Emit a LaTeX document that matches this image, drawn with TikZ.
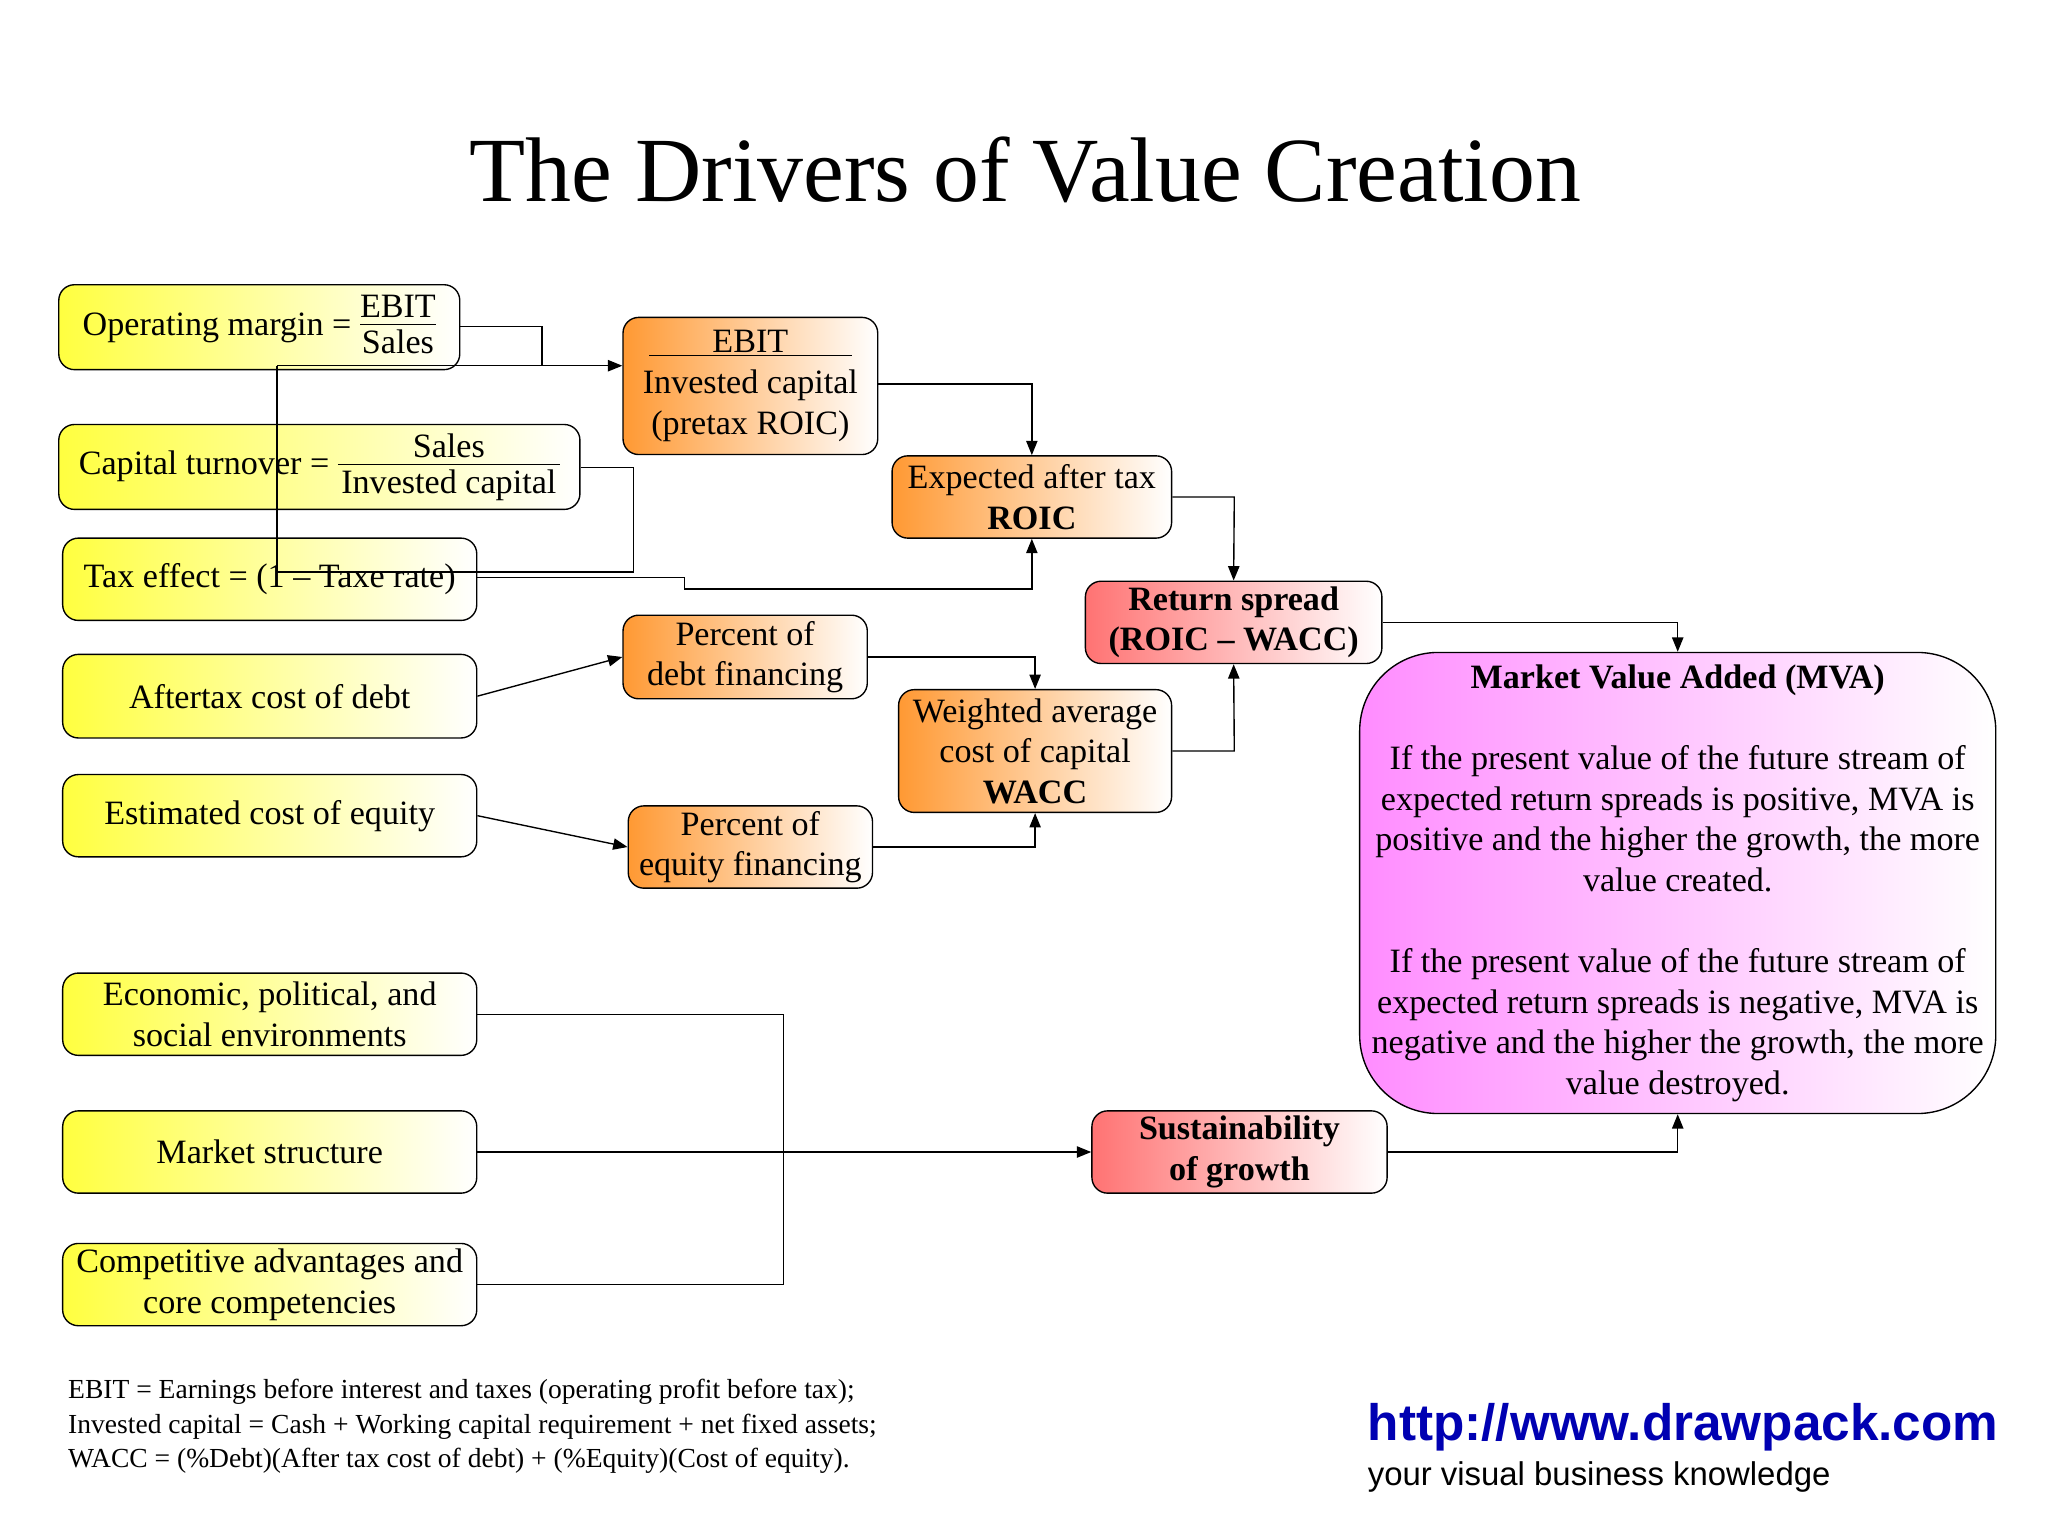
\documentclass[tikz,border=0pt]{standalone}
\usepackage{fontspec}
\setmainfont{Liberation Serif}
\newfontfamily\drawsans{Liberation Sans}
\usetikzlibrary{arrows.meta}
\tikzset{
  base/.style={draw=black, line width=0.9pt, rounded corners=0.36cm, inner sep=0pt, align=center,
     font=\fontsize{22.3}{26.5}\selectfont},
  ybox/.style={base, left color=yellow!75, right color=white},
  obox/.style={base, left color=orange!80, right color=white},
  rbox/.style={base, left color=red!55, right color=white},
  pbox/.style={base, left color=magenta!45, right color=white, rounded corners=1.8cm},
  conn/.style={line width=0.9pt},
  arr/.style={conn, -{Triangle[length=0.33cm,width=0.26cm]}},
}
\newcommand{\myfrac}[2]{\begin{tabular}{@{}c@{}}#1\\[-0.12cm]\hline #2\end{tabular}}
\begin{document}
\begin{tikzpicture}[x={(0.03cm,0)}, y={(0,-0.03cm)}]
\useasboundingbox[fill=white] (0,0) rectangle (1568,1176);
\node[font=\fontsize{60}{70}\selectfont] (title) at (785,130) {The Drivers of Value Creation};

\node[ybox, minimum width=9.21cm, minimum height=1.95cm] (om) at (198.5,250.5) {Operating margin = \myfrac{EBIT}{Sales}};
\node[ybox, minimum width=11.97cm, minimum height=1.95cm] (ct) at (244.5,357.5) {Capital turnover = \myfrac{\hbox to 5.1cm{\hfil Sales\hfil}}{Invested capital}};
\node[ybox, minimum width=9.51cm, minimum height=1.89cm] (tax) at (206.5,443.5) {Tax effect = (1 -- Taxe rate)};
\node[ybox, minimum width=9.51cm, minimum height=1.92cm] (acd) at (206.5,533) {Aftertax cost of debt};
\node[ybox, minimum width=9.51cm, minimum height=1.89cm] (ece) at (206.5,624.5) {Estimated cost of equity};
\node[ybox, minimum width=9.51cm, minimum height=1.89cm] (eco) at (206.5,776.5) {Economic, political, and\\social environments};
\node[ybox, minimum width=9.51cm, minimum height=1.89cm] (ms) at (206.5,882) {Market structure};
\node[ybox, minimum width=9.51cm, minimum height=1.89cm] (cad) at (206.5,983.5) {Competitive advantages and\\core competencies};

\node[obox, minimum width=5.85cm, minimum height=3.15cm] (pre) at (574.5,295.5) {\underline{\hbox to 4.65cm{\hfil EBIT\hfil}}\\Invested capital\\(pretax ROIC)};
\node[obox, minimum width=6.42cm, minimum height=1.89cm] (exp) at (790,380.5) {Expected after tax\\\textbf{ROIC}};
\node[obox, minimum width=5.61cm, minimum height=1.92cm] (pd) at (570.5,503) {Percent of\\debt financing};
\node[obox, minimum width=5.61cm, minimum height=1.89cm] (pe) at (574.5,648.5) {Percent of\\equity financing};
\node[obox, minimum width=6.27cm, minimum height=2.82cm] (wacc) at (792.5,575) {Weighted average\\cost of capital\\\textbf{WACC}};
\node[rbox, minimum width=6.81cm, minimum height=1.89cm] (rs) at (944.5,476.5) {\textbf{Return spread}\\\textbf{(ROIC -- WACC)}};
\node[rbox, minimum width=6.78cm, minimum height=1.89cm] (sg) at (949,882) {\textbf{Sustainability}\\\textbf{of growth}};
\node[pbox, minimum width=14.61cm, minimum height=10.59cm, anchor=north] (mva) at (1284.5,499) {};
\node[anchor=north, align=center, font=\fontsize{22.3}{26.5}\selectfont, inner sep=0pt] (mvat) at (1284.5,509)
 {\textbf{Market Value Added (MVA)}\\[0.93cm]
 If the present value of the future stream of\\expected return spreads is positive, MVA is\\positive and the higher the growth, the more\\value created.\\[0.93cm]
 If the present value of the future stream of\\expected return spreads is negative, MVA is\\negative and the higher the growth, the more\\value destroyed.};

% connectors
\draw[conn] (om.east |- 0,250) -- (415,250) -- (415,280);
\draw[arr] (212,280) -- (pre.west |- 0,280);
\draw[conn] (ct.east |- 0,358) -- (485,358) -- (485,438) -- (212,438) -- (212,280);
\draw[arr] (tax.east |- 0,442) -- (524,442) -- (524,451) -- (790,451) -- (exp.south);
\draw[arr] (pre.east |- 0,294) -- (790,294) -- (exp.north);
\draw[arr] (exp.east) -- (945,380.5) -- (rs.north);
\draw[arr] (acd.east) -- (pd.west);
\draw[arr] (ece.east) -- (pe.west);
\draw[arr] (pd.east) -- (792.5,503) -- (wacc.north);
\draw[arr] (pe.east) -- (792.5,648.5) -- (wacc.south);
\draw[arr] (wacc.east) -- (945,575) -- (rs.south);
\draw[arr] (rs.east) -- (1284.5,476.5) -- (mva.north);
\draw[conn] (eco.east) -- (600,776.5) -- (600,983.5) -- (cad.east);
\draw[arr] (ms.east) -- (sg.west);
\draw[arr] (sg.east) -- (1284.5,882) -- (mva.south);

\node[anchor=north west, align=left, inner sep=0pt, font=\fontsize{18}{22.3}\selectfont] (foot) at (52,1056)
 {EBIT = Earnings before interest and taxes (operating profit before tax);\\
  Invested capital = Cash + Working capital requirement + net fixed assets;\\
  WACC = (\%Debt)(After tax cost of debt) + (\%Equity)(Cost of equity).};
\node[anchor=west, inner sep=0pt, font=\drawsans\bfseries\fontsize{33.5}{38}\selectfont, text=blue!70!black] (url) at (1047,1093) {http://www.drawpack.com};
\node[anchor=west, inner sep=0pt, font=\drawsans\fontsize{21.5}{26}\selectfont] (tag) at (1047,1131) {your visual business knowledge};
\end{tikzpicture}
\end{document}
